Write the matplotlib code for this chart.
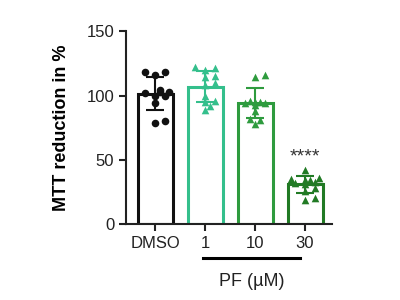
import numpy as np
import matplotlib
matplotlib.use('Agg')
from matplotlib import pyplot as plt
import matplotlib.transforms as mtransforms

plt.rcParams['font.family'] = ['Liberation Sans', 'DejaVu Sans']

groups = ['DMSO', '1', '10', '30']
colors = ['#111111', '#34bf8c', '#2e9b3e', '#217a24']
markers = ['o', '^', '^', '^']

dmso = [118, 118, 116, 104, 103, 103, 102, 100, 100, 94, 80, 79]
pf_1 = [122, 121, 120, 115, 114, 110, 108, 100, 96, 95, 92, 89]
pf_10 = [116, 114, 96, 95, 95, 94, 94, 93, 88, 82, 81, 78]
pf_30 = [42, 36, 35, 34, 34, 33, 32, 31, 28, 26, 20, 19]
values = [dmso, pf_1, pf_10, pf_30]

stars = '****'


def swarm(vals, xscale=50.0, yscale=1.287, diam=6.0, maxoff=0.34):
    # simple beeswarm in pixel space, points may overlap when the bar is full
    placed = []
    offs = np.zeros(len(vals))
    order = np.argsort(vals)
    for i in order:
        y = vals[i] * yscale
        best = None
        for k in range(40):
            step = (k + 1) // 2 * (1 if k % 2 else -1)
            x = step * diam * 0.8
            if abs(x / xscale) > maxoff:
                break
            if all((x - px) ** 2 + (y - py) ** 2 >= diam ** 2 for px, py in placed):
                best = x
                break
        if best is None:
            best = (len(placed) % 3 - 1) * diam * 0.8
        placed.append((best, y))
        offs[i] = best / xscale
    return offs


fig = plt.figure(figsize=(4, 3), dpi=100)
ax = fig.add_axes([0.315, 0.253, 0.515, 0.643])

x = np.arange(len(groups))
means = [np.mean(v) for v in values]
sds = [np.std(v, ddof=1) for v in values]

ax.bar(x, means, width=0.7, facecolor='white', edgecolor=colors, linewidth=2.2, zorder=1)
for i, v in enumerate(values):
    ax.scatter(x[i] + swarm(v), v, marker=markers[i], s=30, color=colors[i],
               linewidths=0, zorder=3)
    ax.errorbar(x[i], means[i], yerr=sds[i], color=colors[i], capsize=6.5,
                elinewidth=1.5, capthick=1.5, zorder=4)

ax.text(x[3], 52, stars, ha='center', va='center', fontsize=14, color='#333333')

ax.set_xlim(-0.58, 3.54)
ax.set_ylim(0, 150)
ax.set_yticks([0, 50, 100, 150])
ax.set_xticks(x)
ax.set_xticklabels(groups)
ax.tick_params(labelsize=12, width=1.5, length=5, colors='#222222')
for s in ['top', 'right']:
    ax.spines[s].set_visible(False)
for s in ['left', 'bottom']:
    ax.spines[s].set_linewidth(1.5)
    ax.spines[s].set_color('#222222')

ax.set_ylabel('MTT reduction in %', fontsize=13, fontweight='bold')
ax.yaxis.set_label_coords(-0.27, 0.5)

trans = mtransforms.blended_transform_factory(ax.transData, ax.transAxes)
ax.plot([x[1] - 0.05, x[3] - 0.1], [-0.176, -0.176], color='black', lw=2.2,
        transform=trans, clip_on=False)
ax.text((x[1] + x[3]) / 2 - 0.07, -0.30, 'PF (µM)', transform=trans,
        ha='center', va='center', fontsize=13, color='#222222')

fig.savefig('out.png', dpi=100)
